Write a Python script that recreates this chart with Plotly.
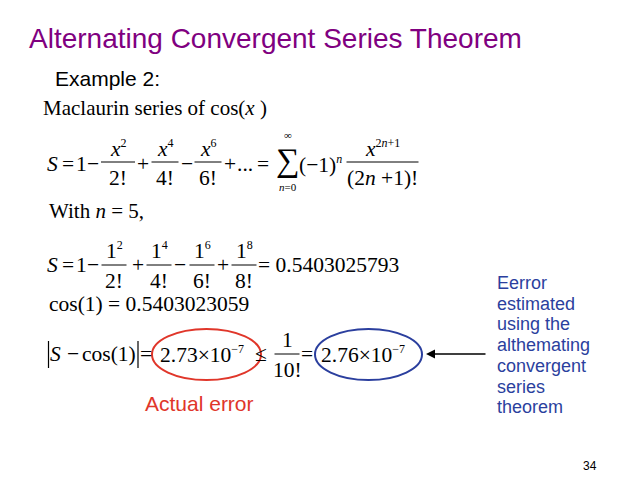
import plotly.graph_objects as go

# ---- slide content (text values) ----
title_text = "Alternating Convergent Series Theorem"
example_text = "Example 2:"
series_terms_num = ["x", "x", "x"]
series_terms_pow = ["2", "4", "6"]
series_terms_den = ["2!", "4!", "6!"]
eval_terms_pow = ["2", "4", "6", "8"]
eval_terms_den = ["2!", "4!", "6!", "8!"]
n_terms = 5
S_value = "0.5403025793"
cos1_value = "0.5403023059"
actual_error_mant = "2.73"
bound_error_mant = "2.76"
error_exp = "−7"
note_lines = ["Eerror", "estimated", "using the", "althemating", "convergent", "series", "theorem"]
page_number = "34"

SERIF = "Liberation Serif, Times New Roman, serif"
SANS = "Liberation Sans, Arial, sans-serif"
FS = 21.5  # formula font size

W, H = 638, 479
OFF = 8  # page offset of the plot inside the browser window
fig = go.Figure()
ann = []
shapes = []


def sup(s, size=12):
    return "<sup><span style='font-size:%dpx'>%s</span></sup>" % (size, s)


def txt(x, y, text, size=FS, font=SERIF, color="black", anchor="left"):
    ann.append(dict(x=x, y=y, xref="x", yref="y", text=text, showarrow=False,
                    xanchor=anchor, yanchor="middle",
                    font=dict(family=font, size=size, color=color)))


def hline(x0, x1, y, color="black", width=1):
    shapes.append(dict(type="line", xref="x", yref="y", x0=x0, x1=x1,
                       y0=y, y1=y, line=dict(color=color, width=width)))


def vline(x, y0, y1):
    shapes.append(dict(type="line", xref="x", yref="y", x0=x, x1=x,
                       y0=y0, y1=y1, line=dict(color="black", width=1.2)))


def frac(xc, ybar, num, den, w, dnum=14, dden=17):
    txt(xc, ybar - dnum, num, anchor="center")
    txt(xc, ybar + dden, den, anchor="center")
    hline(xc - w / 2, xc + w / 2, ybar)


def lead(y):
    txt(52, y, "<i>S</i>", anchor="center")
    txt(67.5, y, "=", anchor="center")
    txt(81, y, "1", anchor="center")
    txt(92.5, y, "−", anchor="center")


# Title & headings
txt(27, 38, title_text, size=28, font=SANS, color="#800080")
txt(53, 78, example_text, size=21, font=SANS)
txt(41, 108, "Maclaurin series of cos(<i>x</i> )", size=21)

# Maclaurin series line
yb = 164
lead(yb)
xs = [118, 165, 208]
ws = [34, 27, 27]
for i in range(3):
    frac(xs[i], yb - 2, "<i>%s</i>" % series_terms_num[i] + sup(series_terms_pow[i]),
         series_terms_den[i], ws[i], dden=15.5)
txt(143, yb, "+", anchor="center")
txt(187, yb, "−", anchor="center")
txt(230, yb, "+", anchor="center")
txt(245, yb, "...", anchor="center")
txt(263, yb, "=", anchor="center")
txt(288, yb - 4, "∑", size=33, anchor="center")
txt(288, 135, "∞", size=11, anchor="center")
txt(288, 187, "<i>n</i>=0", size=11, anchor="center")
txt(297, yb, "(−1)" + sup("<i>n</i>"))
frac(382.5, yb - 2, "<i>x</i>" + sup("2<i>n</i>+1"), "(2<i>n</i> +1)!", 72, dden=15.5)

# With n = 5
txt(47, 211, "With <i>n</i> = %d," % n_terms, size=21)

# Evaluation line
yb2 = 265
lead(yb2)
xs2 = [114, 159, 202, 244]
for i in range(4):
    frac(xs2[i], yb2, "1" + sup(eval_terms_pow[i]), eval_terms_den[i], 25, dnum=15, dden=16)
txt(137.5, yb2, "+", anchor="center")
txt(180, yb2, "−", anchor="center")
txt(222.5, yb2, "+", anchor="center")
txt(256, yb2, "= " + S_value)

# cos(1)
txt(47, 304, "cos(1) = " + cos1_value)

# Error line
yb3 = 354
vline(48.5, 341, 368)
txt(55, yb3, "<i>S</i>", anchor="center")
txt(73, yb3, "−", anchor="center")
txt(80, yb3, "cos(1)")
vline(138, 341, 368)
txt(146, yb3, "=", anchor="center")
txt(158, yb3, actual_error_mant + "×10" + sup(error_exp))
txt(261, yb3, "≤", anchor="center")
frac(287, yb3, "1", "10!", 25, dnum=14, dden=16)
txt(307, yb3, "=", anchor="center")
txt(319, yb3, bound_error_mant + "×10" + sup(error_exp))

# Ellipses
shapes.append(dict(type="circle", xref="x", yref="y", x0=152, x1=261, y0=329, y1=380,
                   line=dict(color="#E0362A", width=2)))
shapes.append(dict(type="circle", xref="x", yref="y", x0=315, x1=422, y0=329, y1=380,
                   line=dict(color="#2B3F9E", width=2)))

# Arrow
ann.append(dict(x=426, y=yb3, ax=487, ay=yb3, xref="x", yref="y", axref="x", ayref="y",
                text="", showarrow=True, arrowhead=2, arrowsize=1.2, arrowwidth=1.5,
                arrowcolor="black"))

# Labels
txt(143, 403, "Actual error", size=21, font=SANS, color="#E0362A")
for i, line in enumerate(note_lines):
    txt(495, 283 + i * 20.7, line, size=18, font=SANS, color="#2B3F9E")

txt(590, 466, page_number, size=12, font=SANS, anchor="center")

fig.update_layout(
    width=W, height=H, margin=dict(l=0, r=0, t=0, b=0),
    paper_bgcolor="white", plot_bgcolor="white",
    xaxis=dict(range=[OFF, W + OFF], visible=False, fixedrange=True),
    yaxis=dict(range=[H + OFF, OFF], visible=False, fixedrange=True),
    annotations=ann, shapes=shapes, showlegend=False,
)
fig.write_html("out.html")
